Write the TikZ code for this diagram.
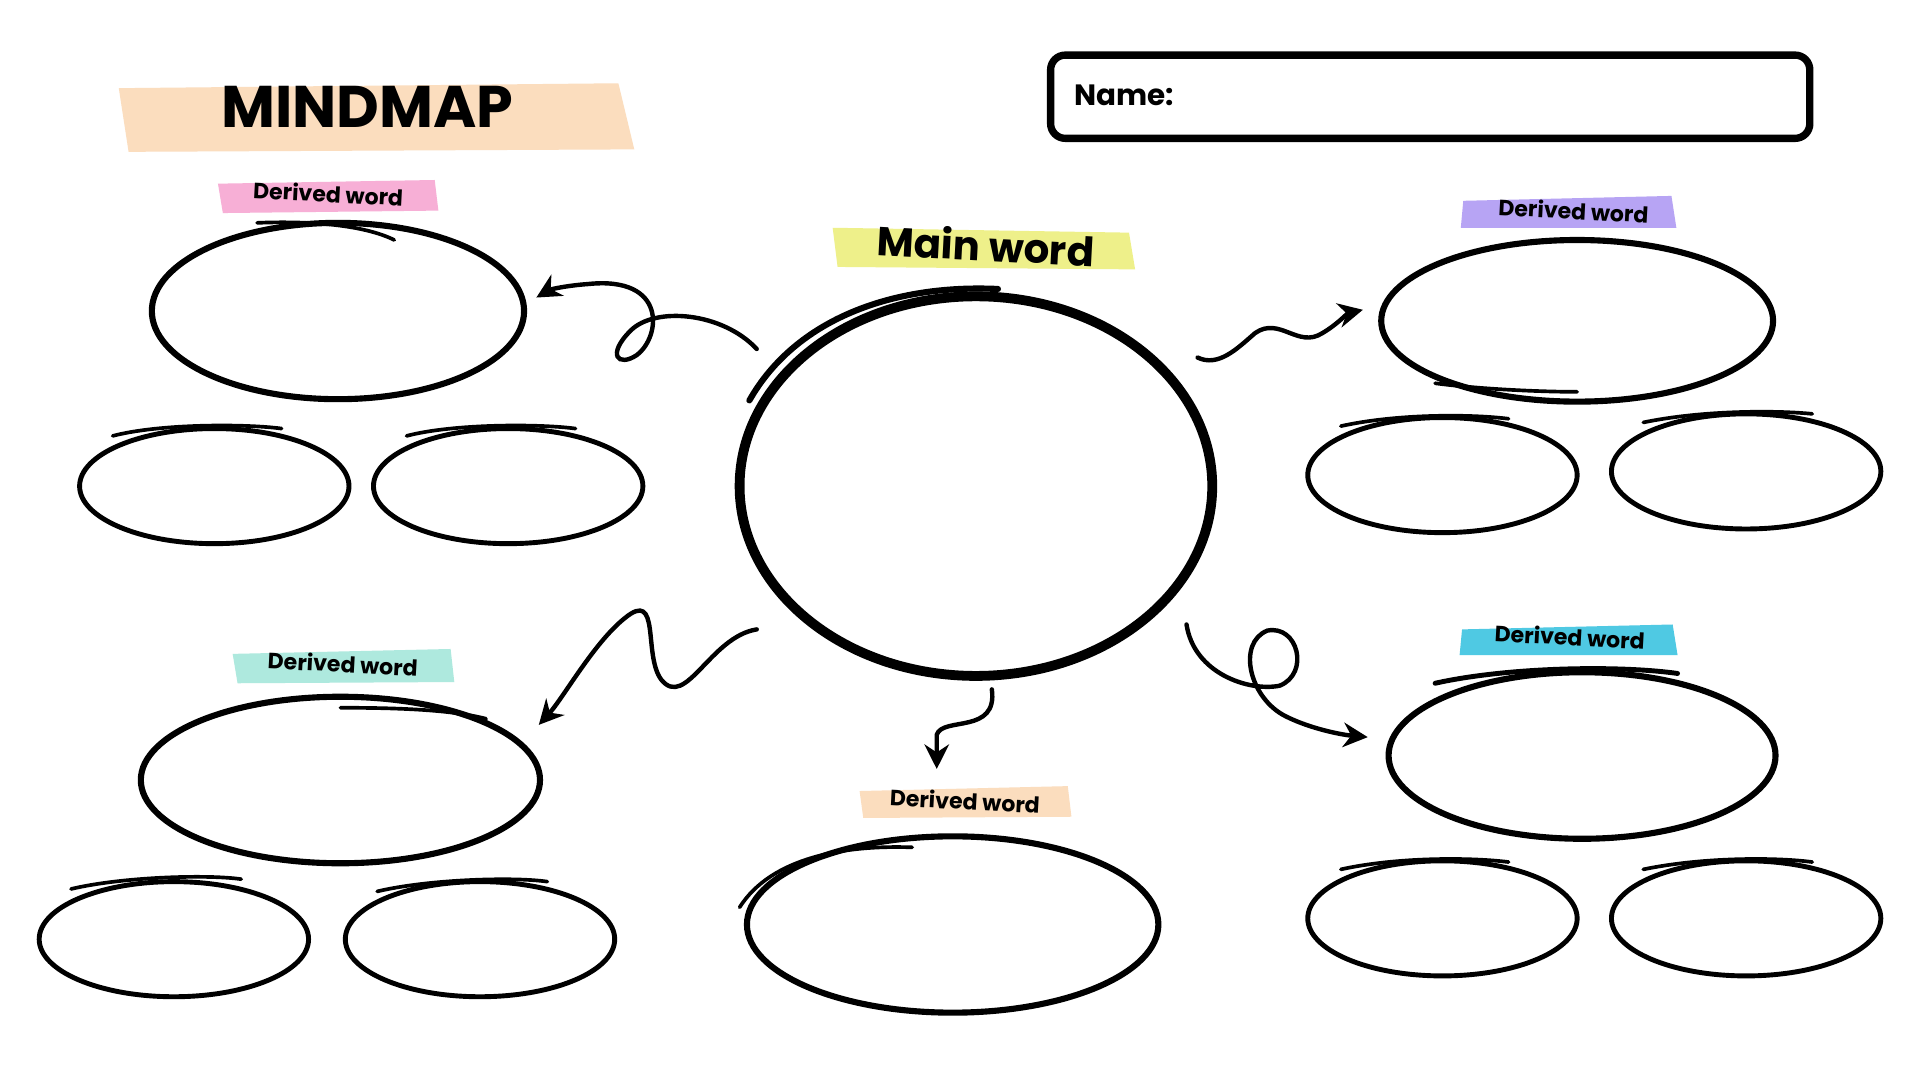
\documentclass[tikz,border=0pt]{standalone}
\usepackage{fontspec}
\setmainfont{Poppins}
\usetikzlibrary{arrows.meta}
\definecolor{peach}{HTML}{FBDDBE}
\definecolor{pinkl}{HTML}{F7AFD6}
\definecolor{lav}{HTML}{B7A4F4}
\definecolor{mint}{HTML}{AEE9DE}
\definecolor{cyanl}{HTML}{4FC9E3}
\definecolor{yel}{HTML}{EEF08A}
\begin{document}
\begin{tikzpicture}[x=1pt,y=-1pt,
  ring/.style={draw=black,line width=5pt},
  sring/.style={draw=black,line width=4pt},
  stroke/.style={draw=black,line width=3pt,line cap=round},
  arr/.style={draw=black,line width=3.6pt,line cap=round,-{Stealth[length=20pt,width=20pt]}},
  lbl/.style={font=\bfseries\fontsize{18}{18}\selectfont,rotate=-3}]
\useasboundingbox (0,0) rectangle (1568,882);
\fill[white] (0,0) rectangle (1568,882);
% title
\fill[peach] (97,72) -- (505,68) -- (518,122) -- (105,124) -- cycle;
\node[font=\bfseries\fontsize{48}{48}\selectfont] (title) at (300,87) {MINDMAP};
% name box
\draw[line width=6pt,rounded corners=12pt] (858,45) rectangle (1478,113);
\node[anchor=west,font=\bfseries\fontsize{24}{24}\selectfont] (name) at (874,78) {Name:};
% main
\fill[yel] (680,186) -- (922,190) -- (927,220) -- (684,218) -- cycle;
\node[font=\bfseries\fontsize{33}{33}\selectfont,rotate=-3] (mainlbl) at (805,200) {Main word};
\draw[line width=8pt] (797,397) ellipse [x radius=193,y radius=155];
\draw[stroke,line width=5pt] (612,327) .. controls (650,260) and (730,232) .. (815,236);
\coordinate (m) at (797,397);
% TL
\fill[pinkl] (178,150) -- (355,147) -- (358,172) -- (182,174) -- cycle;
\node[lbl] (l1) at (268,158) {Derived word};
\draw[ring] (276,254) ellipse [x radius=152,y radius=72];
\draw[stroke] (210,182) .. controls (260,180) and (300,185) .. (322,196);
\draw[sring] (175,397) ellipse [x radius=110,y radius=47];
\draw[sring] (415,397) ellipse [x radius=110,y radius=47];
\draw[stroke] (92,356) .. controls (130,346) and (200,346) .. (230,350);
\draw[stroke] (332,356) .. controls (370,346) and (440,346) .. (470,350);
% TR
\fill[lav] (1195,164) -- (1365,160) -- (1369,186) -- (1193,186) -- cycle;
\node[lbl] (l2) at (1285,172) {Derived word};
\draw[ring] (1288,262) ellipse [x radius=160,y radius=66];
\draw[stroke] (1172,313) .. controls (1210,318) and (1260,320) .. (1288,320);
\draw[sring] (1178,388) ellipse [x radius=110,y radius=47];
\draw[sring] (1426,385) ellipse [x radius=110,y radius=47];
\draw[stroke] (1095,348) .. controls (1140,338) and (1200,338) .. (1232,342);
\draw[stroke] (1342,345) .. controls (1390,335) and (1450,335) .. (1480,338);
% BL
\fill[mint] (190,534) -- (368,530) -- (371,557) -- (194,558) -- cycle;
\node[lbl] (l3) at (280,542) {Derived word};
\draw[ring] (278,637) ellipse [x radius=163,y radius=68];
\draw[stroke] (278,578) .. controls (330,578) and (370,580) .. (397,587);
\draw[sring] (142,767) ellipse [x radius=110,y radius=47];
\draw[sring] (392,767) ellipse [x radius=110,y radius=47];
\draw[stroke] (58,726) .. controls (100,716) and (170,714) .. (197,718);
\draw[stroke] (308,728) .. controls (350,718) and (420,716) .. (447,720);
% BC
\fill[peach] (702,646) -- (872,642) -- (875,667) -- (705,668) -- cycle;
\node[lbl] (l4) at (788,654) {Derived word};
\draw[ring] (778,755) ellipse [x radius=168,y radius=72];
\draw[stroke] (604,741) .. controls (630,700) and (690,690) .. (745,692);
% BR
\fill[cyanl] (1194,514) -- (1366,510) -- (1370,535) -- (1192,535) -- cycle;
\node[lbl] (l5) at (1282,520) {Derived word};
\draw[ring] (1292,617) ellipse [x radius=158,y radius=68];
\draw[stroke,line width=4pt] (1172,558) .. controls (1230,545) and (1320,543) .. (1370,550);
\draw[sring] (1178,750) ellipse [x radius=110,y radius=47];
\draw[sring] (1426,750) ellipse [x radius=110,y radius=47];
\draw[stroke] (1095,710) .. controls (1140,700) and (1200,700) .. (1232,704);
\draw[stroke] (1342,710) .. controls (1390,700) and (1450,700) .. (1480,704);
% arrows
\coordinate (a1s) at (618,285); \coordinate (a1e) at (438,243);
\draw[arr] (a1s) .. controls (590,255) and (535,250) .. (515,270)
  .. controls (495,290) and (505,300) .. (520,290)
  .. controls (540,275) and (545,225) .. (480,232)
  .. controls (465,233) and (450,236) .. (a1e);
\coordinate (a2s) at (978,292); \coordinate (a2e) at (1113,253);
\draw[arr] (a2s) .. controls (995,300) and (1010,285) .. (1025,272)
  .. controls (1045,258) and (1060,285) .. (1080,272)
  .. controls (1092,265) and (1100,256) .. (a2e);
\coordinate (a3s) at (618,514); \coordinate (a3e) at (440,592);
\draw[arr] (a3s) .. controls (580,520) and (560,580) .. (540,555)
  .. controls (525,535) and (540,480) .. (510,505)
  .. controls (485,525) and (460,570) .. (a3e);
\coordinate (a4s) at (810,563); \coordinate (a4e) at (765,628);
\draw[arr] (a4s) .. controls (815,600) and (770,585) .. (765,600) -- (a4e);
\coordinate (a5s) at (969,510); \coordinate (a5e) at (1117,602);
\draw[arr] (a5s) .. controls (975,550) and (1020,565) .. (1045,560)
  .. controls (1070,550) and (1060,510) .. (1035,515)
  .. controls (1010,525) and (1020,570) .. (1050,585)
  .. controls (1070,595) and (1095,600) .. (a5e);
\end{tikzpicture}
\end{document}
